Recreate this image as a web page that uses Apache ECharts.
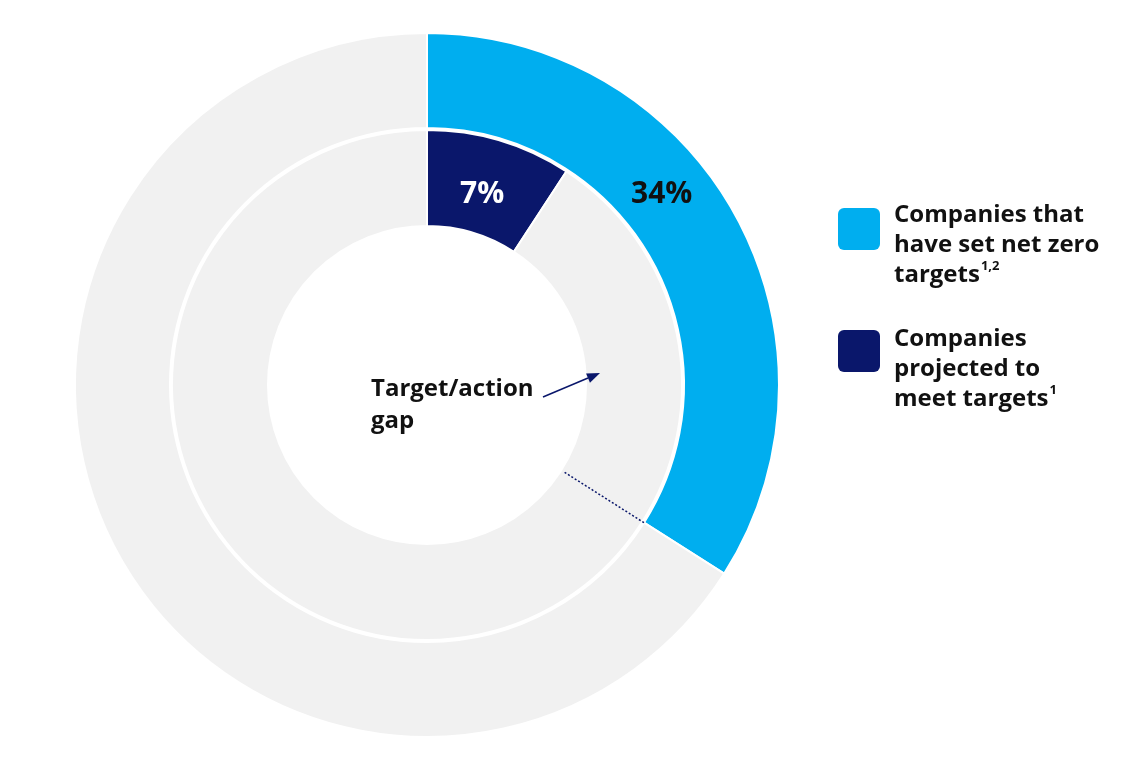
<!DOCTYPE html>
<html>
<head>
<meta charset="utf-8">
<script src="https://cdn.jsdelivr.net/npm/echarts@6/dist/echarts.min.js"></script>
<style>
  html, body { margin: 0; padding: 0; background: #fff; }
  #chart { width: 1136px; height: 771px; }
</style>
</head>
<body>
<div id="chart"></div>
<script>
// outer ring: set net zero targets vs rest
const outerNames = ["Companies that have set net zero targets", "Other"];
const outerValues = [34, 66];
const outerLabels = ["34%", ""];
// inner ring: projected to meet targets (slice drawn a bit larger than its label)
const innerNames = ["Companies projected to meet targets", "Other"];
const innerValues = [9.2, 90.8];
const innerLabels = ["7%", ""];

const BLUE = "#00AEEF";
const NAVY = "#0A176B";
const GREY = "#F1F1F1";
const FONT = "Open Sans";

const cx = 427, cy = 385;
const outerR = [257, 352];
const innerR = [159, 255];

const chart = echarts.init(document.getElementById("chart"));

// where the outer slice ends, carried down through the inner ring as a dotted line
const gapAngle = outerValues[0] / outerValues.reduce((a, b) => a + b, 0) * 2 * Math.PI;
const pt = (r) => [cx + r * Math.sin(gapAngle), cy - r * Math.cos(gapAngle)];
const p1 = pt(innerR[0] + 4), p2 = pt(innerR[1] + 2);

// arrow for "Target/action gap"
const aFrom = [543, 397], aTo = [600, 373];
const dx = aTo[0] - aFrom[0], dy = aTo[1] - aFrom[1];
const len = Math.sqrt(dx * dx + dy * dy);
const ux = dx / len, uy = dy / len;
const base = [aTo[0] - 13 * ux, aTo[1] - 13 * uy];
const head = [aTo, [base[0] - 5 * uy, base[1] + 5 * ux], [base[0] + 5 * uy, base[1] - 5 * ux]];

const txt = { fontFamily: FONT, fontWeight: "bold", fontSize: 24, fill: "#111" };
const sup = { fontFamily: FONT, fontWeight: "bold", fontSize: 13, fill: "#111", verticalAlign: "top", lineHeight: 30, padding: [0, 0, 10, 1] };

const option = {
    animation: false,
    series: [
        {
            type: "pie",
            center: [cx, cy],
            radius: outerR,
            startAngle: 90,
            silent: true,
            label: { show: false },
            labelLine: { show: false },
            itemStyle: { borderColor: "#fff", borderWidth: 2 },
            data: outerValues.map((v, i) => ({
                name: outerNames[i],
                value: v,
                itemStyle: { color: i === 0 ? BLUE : GREY },
            })),
        },
        {
            type: "pie",
            center: [cx, cy],
            radius: innerR,
            startAngle: 90,
            silent: true,
            label: { show: false },
            labelLine: { show: false },
            itemStyle: { borderColor: "#fff", borderWidth: 2 },
            data: innerValues.map((v, i) => ({
                name: innerNames[i],
                value: v,
                itemStyle: { color: i === 0 ? NAVY : GREY },
            })),
        },
    ],
    graphic: {
        elements: [
            // slice labels
            { type: "text", z: 100, left: 460, top: 179, style: { text: innerLabels[0], fontFamily: FONT, fontWeight: "bold", fontSize: 30, fill: "#fff" } },
            { type: "text", z: 100, left: 631, top: 179, style: { text: outerLabels[0], fontFamily: FONT, fontWeight: "bold", fontSize: 30, fill: "#111" } },
            // dotted line across inner ring
            {
                type: "line", z: 100,
                shape: { x1: p1[0], y1: p1[1], x2: p2[0], y2: p2[1] },
                style: { stroke: NAVY, lineWidth: 1.5, lineDash: [2, 2] },
            },
            // annotation
            {
                type: "text", z: 100, left: 371, top: 373,
                style: { text: "Target/action\ngap", fontFamily: FONT, fontWeight: "bold", fontSize: 24, lineHeight: 32, fill: "#111" },
            },
            {
                type: "line", z: 100,
                shape: { x1: aFrom[0], y1: aFrom[1], x2: base[0], y2: base[1] },
                style: { stroke: NAVY, lineWidth: 1.5 },
            },
            { type: "polygon", z: 100, shape: { points: head }, style: { fill: NAVY } },
            // legend
            { type: "rect", z: 100, shape: { x: 838, y: 208, width: 42, height: 42, r: 6 }, style: { fill: BLUE } },
            { type: "rect", z: 100, shape: { x: 838, y: 330, width: 42, height: 42, r: 6 }, style: { fill: NAVY } },
            {
                type: "text", z: 100, left: 894, top: 203,
                style: {
                    text: "{a|Companies that}\n{a|have set net zero}\n{a|targets}{s|1,2}",
                    rich: { a: Object.assign({}, txt, { lineHeight: 30 }), s: sup },
                },
            },
            {
                type: "text", z: 100, left: 894, top: 327,
                style: {
                    text: "{a|Companies}\n{a|projected to}\n{a|meet targets}{s|1}",
                    rich: { a: Object.assign({}, txt, { lineHeight: 30 }), s: sup },
                },
            },
        ],
    },
};

chart.setOption(option);
</script>
</body>
</html>
